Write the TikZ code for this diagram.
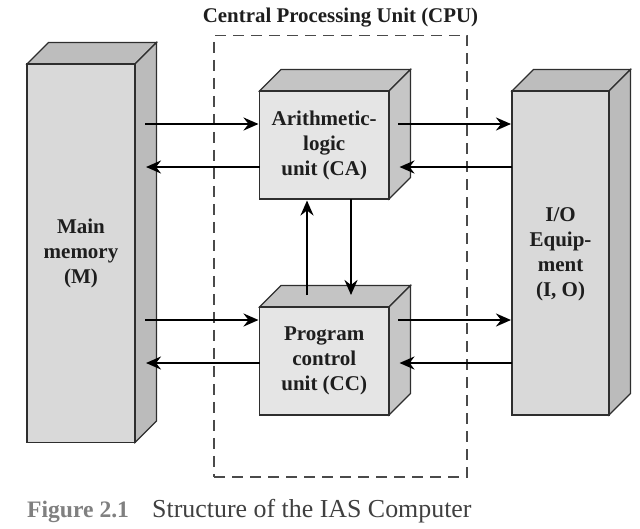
\documentclass[tikz,border=0pt]{standalone}
\usepackage{fontspec}
\setmainfont{Liberation Serif}
\usetikzlibrary{arrows.meta}
\definecolor{ink}{HTML}{1E1E1E}
\definecolor{edgec}{HTML}{2E2E2E}
\definecolor{memfront}{HTML}{D9D9D9}
\definecolor{memtop}{HTML}{BDBDBD}
\definecolor{memside}{HTML}{BBBBBB}
\definecolor{cpufront}{HTML}{E5E5E5}
\definecolor{cputop}{HTML}{C4C4C4}
\definecolor{cpuside}{HTML}{C6C6C6}
\definecolor{capgray}{HTML}{808080}
\definecolor{dashc}{HTML}{4A4A4A}
\newcommand{\faces}[7]{%
  % x1 y1 x2 y2 depth topcolour sidecolour
  \path[face,fill=#6] (#1,#2) -- (#1+#5,#2-#5) -- (#3+#5,#2-#5) -- (#3,#2) -- cycle;
  \path[face,fill=#7] (#3,#2) -- (#3+#5,#2-#5) -- (#3+#5,#4-#5) -- (#3,#4) -- cycle;
}
\tikzset{
  x=1pt,y=-1pt,
  face/.style={draw=edgec,line width=1.2pt,line join=miter},
  block/.style={draw=edgec,line width=1.2pt,align=center,inner sep=0pt,text=ink,
    font=\fontsize{21}{25}\selectfont\bfseries},
  flow/.style={draw=black,line width=2.8pt,-{Stealth[length=15pt,width=13pt,inset=5pt]}},
  cpubox/.style={draw=dashc,line width=1.2pt,dash pattern=on 11pt off 7pt},
  titletext/.style={inner sep=0pt,text=ink,font=\fontsize{20.9}{24}\selectfont\bfseries},
  figlabel/.style={inner sep=0pt,anchor=base west,text=capgray,font=\fontsize{23.6}{26}\selectfont\bfseries},
  figcaption/.style={inner sep=0pt,anchor=base west,text=ink!85,font=\fontsize{25.9}{28}\selectfont},
}
\begin{document}
\begin{tikzpicture}
\useasboundingbox (0,0) rectangle (640,528);
\node[cpubox,minimum width=253pt,minimum height=441.5pt,inner sep=0pt] (cpu) at (340.5,256.2) {};
\node[titletext] (cputitle) at (340.5,18) {Central Processing Unit (CPU)};
% Main memory
\faces{27}{64}{135}{442.5}{21.5}{memtop}{memside}
\node[block,fill=memfront,minimum width=108pt,minimum height=378.5pt] (mem) at (81,253.2) {};
\node[block,draw=none] (memtext) at (81,253) {Main\\memory\\(M)};
% ALU
\faces{259.5}{91}{389}{199}{21.5}{cputop}{cpuside}
\node[block,fill=cpufront,minimum width=129.5pt,minimum height=108pt] (alu) at (324.2,145) {Arithmetic-\\logic\\unit (CA)};
% PCU
\faces{259.5}{307}{389}{415}{21.5}{cputop}{cpuside}
\node[block,fill=cpufront,minimum width=129.5pt,minimum height=108pt] (pcu) at (324.2,361) {Program\\control\\unit (CC)};
% I/O
\faces{512}{91}{609}{415}{21.5}{memtop}{memside}
\node[block,fill=memfront,minimum width=97pt,minimum height=324pt] (io) at (560.5,253) {};
\node[block,draw=none] (iotext) at (560.5,254.5) {I/O\\Equip-\\ment\\(I, O)};
% Arrow ends on the blocks
\coordinate (m1) at (145,124);
\coordinate (m2) at (146,167);
\coordinate (m3) at (145,320);
\coordinate (m4) at (146,363);
\coordinate (a1) at (258.5,124);
\coordinate (a2) at (259.5,167);
\coordinate (a3) at (398,124);
\coordinate (a4) at (399.5,167);
\coordinate (p1) at (258.5,320);
\coordinate (p2) at (259.5,363);
\coordinate (p3) at (398,320);
\coordinate (p4) at (399.5,363);
\coordinate (i1) at (511,124);
\coordinate (i2) at (512,167);
\coordinate (i3) at (511,320);
\coordinate (i4) at (512,363);
\coordinate (up0) at (307,295);
\coordinate (up1) at (307,200.5);
\coordinate (dn0) at (351,199);
\coordinate (dn1) at (351,295);
\draw[flow] (m1) -- (a1);
\draw[flow] (a2) -- (m2);
\draw[flow] (m3) -- (p1);
\draw[flow] (p2) -- (m4);
\draw[flow] (a3) -- (i1);
\draw[flow] (i2) -- (a4);
\draw[flow] (p3) -- (i3);
\draw[flow] (i4) -- (p4);
\draw[flow] (up0) -- (up1);
\draw[flow] (dn0) -- (dn1);
% Caption
\node[figlabel] (figlab) at (27,517) {Figure 2.1};
\node[figcaption] (figcap) at (152,517) {Structure of the IAS Computer};
\end{tikzpicture}
\end{document}
